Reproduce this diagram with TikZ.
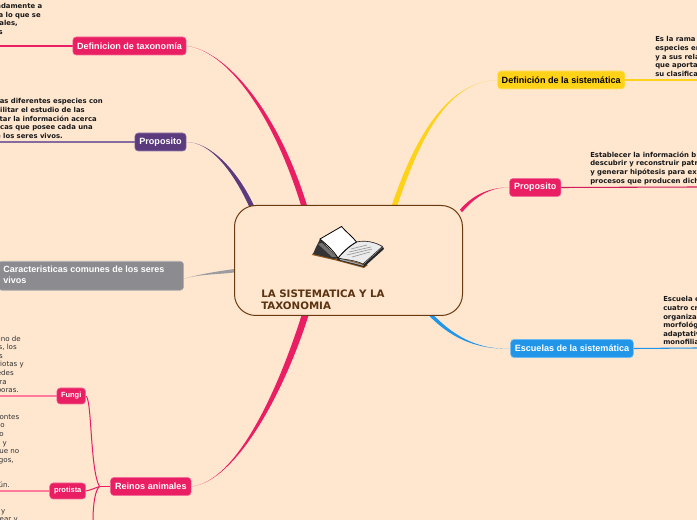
\documentclass[tikz,border=0pt]{standalone}
\usepackage{fontspec}
\setmainfont{DejaVu Sans}
\newfontfamily\nodefont{Liberation Sans}
\usetikzlibrary{calc,backgrounds}
\definecolor{bgc}{HTML}{FEE6CF}
\definecolor{rootc}{HTML}{6B3A10}
\definecolor{roott}{HTML}{5C3310}
\definecolor{pinkc}{HTML}{E91E63}
\definecolor{purplec}{HTML}{5C3A7E}
\definecolor{yellowc}{HTML}{FFD21A}
\definecolor{bluec}{HTML}{2196E8}
\definecolor{greyc}{HTML}{8C8C90}
\definecolor{softpink}{HTML}{FF7B9C}
\tikzset{
  x=0.75pt,y=-0.75pt,
  topic/.style={rounded corners=2.5pt,inner sep=0pt,text=white,draw=#1!65!white,fill=#1,line width=0.4pt,
    font=\nodefont\bfseries\fontsize{6.8pt}{9pt}\selectfont},
  subtopic/.style={topic=pinkc,font=\nodefont\bfseries\fontsize{5.6pt}{8pt}\selectfont},
  leafbold/.style={inner sep=0pt,align=left,anchor=north west,font=\bfseries\fontsize{5.15pt}{6.45pt}\selectfont,text=black!90},
  leafboldr/.style={inner sep=0pt,align=right,anchor=north east,font=\bfseries\fontsize{5.15pt}{6.45pt}\selectfont,text=black!90},
  leafplain/.style={inner sep=0pt,align=right,anchor=north east,font=\fontsize{5.3pt}{6.45pt}\selectfont,text=black!80},
  leafline/.style={line width=0.8pt,draw=#1},
  softline/.style={line width=1.2pt,draw=softpink},
  thin link/.style={line width=0.75pt,draw=pinkc},
}
\newcommand{\taper}[6]{%
  \fill[#1] (#2) .. controls (#3) and ($(#4)+(#6)$) .. ($(#5)+(#6)$) -- ($(#5)-(#6)$) .. controls ($(#4)-(#6)$) and (#3) .. (#2) -- cycle;}
\newcommand{\off}[1]{\rule{\dimexpr #1pt*3/4\relax}{0pt}}
\begin{document}
\begin{tikzpicture}
\useasboundingbox (0,0) rectangle (697,520);
\clip (0,0) rectangle (697,520);

% central topic
\node[draw=rootc,fill=bgc,line width=0.75pt,rounded corners=16pt,minimum width=171pt,minimum height=82.5pt,inner sep=0pt] (root) at (348.5,260.5) {};
\node[inner sep=0pt,anchor=north west,align=left,text=roott,font=\bfseries\fontsize{7.7pt}{9pt}\selectfont] (title) at (261,289.5) {LA SISTEMATICA Y LA\\TAXONOMIA};

% main branches
\node[topic=pinkc,minimum width=85pt,minimum height=13.5pt] (deftax) at (129.5,46) {Definicion de taxonomía};
\node[topic=purplec,minimum width=38.5pt,minimum height=13.5pt] (propL) at (160.5,142) {Proposito};
\node[topic=greyc,anchor=north west,minimum width=139pt,minimum height=21.75pt] (carac) at (-2,261) {};
\node[inner sep=0pt,anchor=north west,align=left,text=white,font=\nodefont\bfseries\fontsize{6.75pt}{8.3pt}\selectfont] (caract) at (3,266) {Caracteristicas comunes de los seres\\vivos};
\node[topic=pinkc,minimum width=60.5pt,minimum height=13.5pt] (reinos) at (150.8,486.5) {Reinos animales};
\node[subtopic,minimum width=21.5pt,minimum height=12pt] (fungi) at (71.2,396) {Fungi};
\node[subtopic,minimum width=27pt,minimum height=12pt] (protista) at (67.7,491) {protista};
\node[topic=yellowc,text=black,minimum width=95.5pt,minimum height=13.5pt] (defsis) at (561.2,80) {Definición de la sistemática};
\node[topic=pinkc,minimum width=38.5pt,minimum height=13.5pt] (propR) at (535.2,187.5) {Proposito};
\node[topic=bluec,minimum width=92pt,minimum height=13.5pt] (escuelas) at (572,348.5) {Escuelas de la sistemática};

% leaf texts
\node[leafboldr] (t1) at (42.5,3) {ndamente a\\a lo que se\off{1.5}\\rales,\off{24.5}\\s\off{39.5}};
\node[leafboldr] (t2) at (103,98.5) {as diferentes especies con\\ilitar el estudio de las\off{18}\\tar la información acerca\off{6}\\cas que posee cada una\off{10}\\e los seres vivos.\off{40}};
\node[leafbold] (t3) at (655,36.5) {Es la rama\\especies en\\y a sus rela\\que aporta\\su clasifica};
\node[leafbold] (t4) at (590,151.5) {Establecer la información b\\descubrir y reconstruir patr\\y generar hipótesis para ex\\procesos que producen dich};
\node[leafbold] (t5) at (663,296.5) {Escuela e\\cuatro cr\\organiza\\morfológ\\adaptativ\\monofilia};
\node[leafplain] (t6) at (24.5,335.5) {ino de\off{3.5}\\s, los\off{7.5}\\s\off{21.5}\\riotas y\off{0.5}\\edes\off{10.5}\\ra\off{17.5}\\poras.\off{5.5}};
\node[leafplain] (t7) at (19.5,414) {ontes\\o\off{14.5}\\o\off{15.5}\\y\off{12.5}\\ue no\\gos,\off{5.5}};
\node[leafplain] (t8) at (10,481.5) {ún.};
\node[leafplain] (t9) at (18,509) {y\off{12.5}\\ear y};

\begin{scope}[on background layer]
  \fill[bgc] (0,0) rectangle (697,520);
  % tapered main connectors
  \coordinate (eA) at ($(root.north west)+(70.5,2)$);
  \coordinate (eB) at ($(root.north west)+(18,2)$);
  \coordinate (eC) at ($(root.south west)+(71.5,-2)$);
  \coordinate (eD) at ($(root.west)+(2,10)$);
  \coordinate (eE) at ($(root.north west)+(160,2)$);
  \coordinate (eF) at ($(root.north east)+(-2,6)$);
  \coordinate (eG) at ($(root.south east)+(-33,-2)$);
  \coordinate (cS) at ($(carac.east)+(0,3)$);
  \taper{pinkc}{deftax.east}{225,50}{275,110}{eA}{3,0}
  \taper{purplec}{propL.east}{210,142}{235,170}{eB}{2.6,0}
  \taper{pinkc}{reinos.east}{235,482}{280,395}{eC}{3.5,0}
  \taper{greyc!85!white}{cS}{200,274}{218,273}{eD}{0,1.7}
  \taper{yellowc}{defsis.west}{450,82}{420,130}{eE}{2.8,0}
  \taper{pinkc}{propR.west}{488,187}{472,198}{eF}{1,1.3}
  \taper{bluec}{escuelas.west}{475,350}{450,335}{eG}{1.2,-1.3}
  % leaf lines
  \coordinate (lA) at (0,46); \coordinate (lB) at (0,142);
  \coordinate (lC) at (697,80); \coordinate (lD) at (697,187);
  \coordinate (lE) at (697,348); \coordinate (lF) at (0,396); \coordinate (lG) at (0,491);
  \draw[leafline=pinkc] (deftax.west) -- (lA);
  \draw[leafline=purplec!75!white] (propL.west) -- (lB);
  \draw[leafline=yellowc] (defsis.east) -- (lC);
  \draw[leafline=pinkc!90!black] (propR.east) -- (lD);
  \draw[leafline=bluec] (escuelas.east) -- (lE);
  \draw[softline] (fungi.west) -- (lF);
  \draw[softline] (protista.west) -- (lG);
  % sub-branches of Reinos animales
  \coordinate (hub) at (99.5,486.5);
  \coordinate (lowEnd) at (93,521);
  \draw[thin link] (reinos.west) -- (hub);
  \draw[thin link] (fungi.east) .. controls (92,398) and (90,470) .. (hub);
  \draw[thin link] (protista.east) .. controls (91,490) and (95,488) .. (hub);
  \draw[thin link] (hub) .. controls (95,490) and (93,505) .. (lowEnd);
\end{scope}

% book illustration
\fill[black!12] (313,254.5) -- (335,260) -- (363,268.5) -- (383,249) -- (381,247) -- (363,263) -- cycle;
\fill[brown!70!orange!70!black] (312,255) -- (336,260.5) -- (364,268) -- (368,265) -- (336,257) -- (313,253) -- cycle;
\fill[black!80] (316,247) -- (320,239) -- (338,258) -- (334,259) -- (313,254) -- cycle;
\fill[black!55] (318,244) -- (322,243) -- (337,257) -- (332,257) -- cycle;
\fill[black!85] (338,258) -- (363,265) -- (383,247) -- (384,249) -- (364,267) -- (337,260) -- cycle;
\fill[black!35] (340,258.5) -- (362,264.5) -- (364,266) -- (340,260) -- cycle;
\filldraw[fill=white!92!black,draw=black!85,line width=0.5pt] (338,258) .. controls (345,250) and (350,246) .. (356.5,242) .. controls (365,240) and (375,242) .. (382.5,246.5) -- (363,264) .. controls (355,260) and (346,260) .. (338,258) -- cycle;
\draw[black!40,line width=0.5pt] (351,249) -- (367,245);
\draw[black!40,line width=0.5pt] (349,252) -- (371,247);
\draw[black!40,line width=0.5pt] (347,255) -- (372,249);
\draw[black!40,line width=0.5pt] (352,257) -- (370,252);
\filldraw[fill=white,draw=black,line width=0.6pt] (320,239) -- (341.5,226.5) .. controls (346,232) and (352,236) .. (356.5,242) .. controls (349,246) and (343,252) .. (338,258) .. controls (333,250) and (327,245) .. (320,239) -- cycle;
\end{tikzpicture}
\end{document}
